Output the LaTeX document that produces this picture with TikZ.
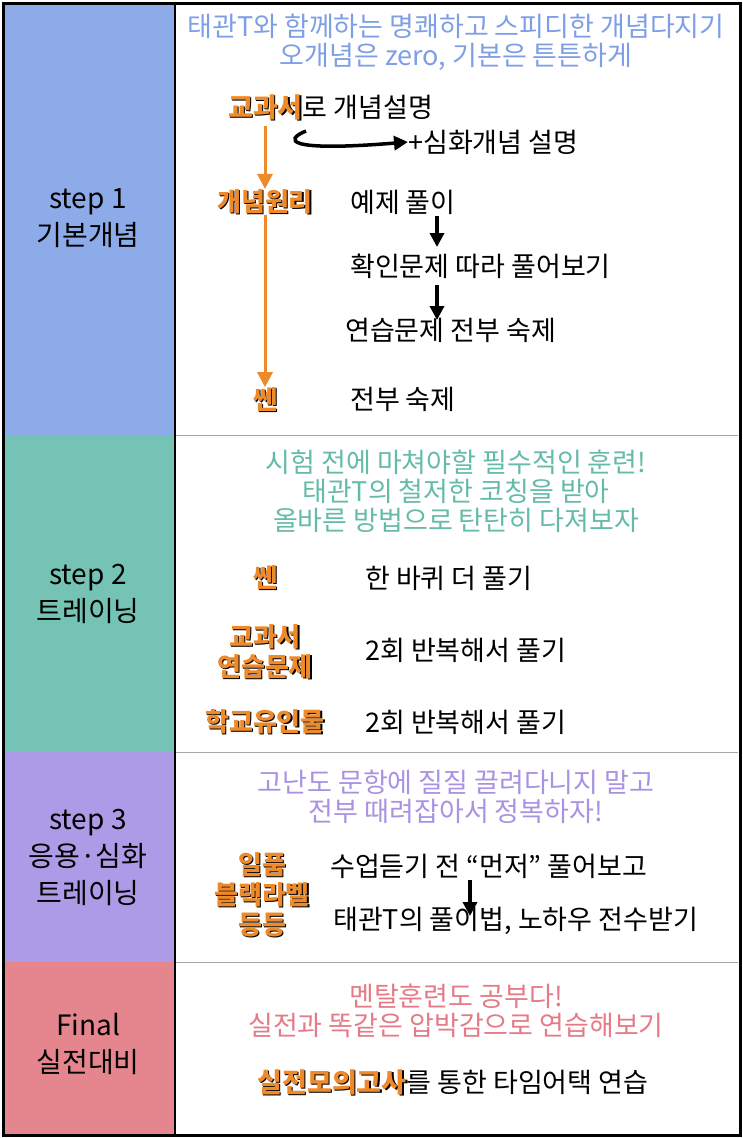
\documentclass[tikz,border=0pt]{standalone}
\usepackage{fontspec}
\setmainfont{Noto Sans CJK KR}
\usepackage{tikz}
\usetikzlibrary{arrows.meta}
\definecolor{stepblue}{HTML}{8DAAE9}
\definecolor{stepteal}{HTML}{74C3B4}
\definecolor{steppurple}{HTML}{AE9BE7}
\definecolor{steppink}{HTML}{E5868F}
\definecolor{hdblue}{HTML}{7E9FE6}
\definecolor{hdteal}{HTML}{66BBA8}
\definecolor{hdpurple}{HTML}{A893E3}
\definecolor{hdpink}{HTML}{E47B86}
\definecolor{keyorange}{HTML}{EE8A2A}
\newcommand{\keyword}[1]{\rlap{\hspace{1.2pt}\raisebox{-1.2pt}{\color{black}\bfseries #1}}{\color{keyorange}\bfseries #1}}
\begin{document}
\begin{tikzpicture}[x=1pt,y=-1pt,
  step label/.style={font=\fontsize{28}{37}\selectfont, align=center},
  head text/.style={font=\fontsize{27}{29}\selectfont, align=center},
  body text/.style={font=\fontsize{27}{30}\selectfont, anchor=west, inner sep=0pt},
  key text/.style={font=\fontsize{26}{30}\selectfont, align=center, inner sep=0pt},
  orange arrow/.style={-{Triangle[length=15pt,width=15pt]}, draw=keyorange, line width=3pt},
  black arrow/.style={-{Triangle[length=14pt,width=14pt]}, line width=3.5pt}]
  \useasboundingbox (0,0) rectangle (743,1138);
  % left column
  \fill[stepblue] (5,4) rectangle (175,435);
  \fill[stepteal] (5,435) rectangle (175,752);
  \fill[steppurple] (5,752) rectangle (175,962);
  \fill[steppink] (5,962) rectangle (175,1134);
  \draw[gray!70, line width=1pt] (175,435) -- (738,435) (175,752) -- (738,752) (175,962) -- (738,962);
  \draw[line width=2pt] (175,4) -- (175,1134);
  \draw[line width=3pt] (3,3) rectangle (740,1135);
  \node[step label] (s1) at (88,218) {step 1\\기본개념};
  \node[step label] (s2) at (88,594) {step 2\\트레이닝};
  \node[step label] (s3) at (88,857) {step 3\\응용·심화\\트레이닝};
  \node[step label] (s4) at (88,1044) {Final\\실전대비};
  % step 1
  \node[head text, text=hdblue] (h1) at (456,42) {태관T와 함께하는 명쾌하고 스피디한 개념다지기\\오개념은 zero, 기본은 튼튼하게};
  \node[body text] (kyo) at (228,108) {\keyword{교과서}로 개념설명};
  \node[body text] (deep) at (408,142) {+심화개념 설명};
  \node[key text] (won) at (265,202) {\keyword{개념원리}};
  \node[key text] (ssen) at (265,400) {\keyword{쎈}};
  \node[body text] (ex) at (350,202) {예제 풀이};
  \node[body text] (chk) at (350,266) {확인문제 따라 풀어보기};
  \node[body text] (prac) at (345,330) {연습문제 전부 숙제};
  \node[body text] (all) at (350,399) {전부 숙제};
  \coordinate (kyoA) at (265,126);
  \coordinate (bend) at (306,131);
  \draw[orange arrow] (kyoA) -- (won);
  \draw[orange arrow] (won) -- (ssen);
  \draw[black arrow] (bend) .. controls (284,140) and (285,152) .. (deep.west);
  \draw[black arrow] (437,216) -- (437,247);
  \draw[black arrow] (437,285) -- (437,320);
  % step 2
  \node[head text, text=hdteal] (h2) at (456,491) {시험 전에 마쳐야할 필수적인 훈련!\\태관T의 철저한 코칭을 받아\\올바른 방법으로 탄탄히 다져보자};
  \node[key text] (ssen2) at (265,578) {\keyword{쎈}};
  \node[key text] (kyo2) at (265,652) {\keyword{교과서}\\\keyword{연습문제}};
  \node[key text] (hand) at (265,722) {\keyword{학교유인물}};
  \node[body text] (r1) at (365,578) {한 바퀴 더 풀기};
  \node[body text] (r2) at (365,650) {2회 반복해서 풀기};
  \node[body text] (r3) at (365,722) {2회 반복해서 풀기};
  % step 3
  \node[head text, text=hdpurple] (h3) at (456,797) {고난도 문항에 질질 끌려다니지 말고\\전부 때려잡아서 정복하자!};
  \node[key text] (books) at (262,895) {\keyword{일품}\\\keyword{블랙라벨}\\\keyword{등등}};
  \node[body text] (pre) at (330,866) {수업듣기 전 “먼저” 풀어보고};
  \node[body text] (how) at (333,921) {태관T의 풀이법, 노하우 전수받기};
  \draw[black arrow] (470,880) -- (470,916);
  % final
  \node[head text, text=hdpink] (h4) at (456,1011) {멘탈훈련도 공부다!\\실전과 똑같은 압박감으로 연습해보기};
  \node[font=\fontsize{27}{30}\selectfont] (mock) at (453,1083) {\keyword{실전모의고사}를 통한 타임어택 연습};
\end{tikzpicture}
\end{document}
